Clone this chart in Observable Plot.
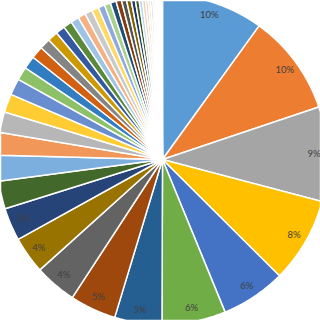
<!DOCTYPE html>
<html>
<head>
<meta charset="utf-8">
<script src="https://cdn.jsdelivr.net/npm/d3@7"></script>
<script src="https://cdn.jsdelivr.net/npm/@observablehq/plot@0.6"></script>
<style>
  html, body { margin: 0; padding: 0; background: #fff; overflow: hidden; }
  #chart svg { display: block; }
</style>
</head>
<body>
<div id="chart"></div>
<script>
// ---- data ----
const categories = ["S1","S2","S3","S4","S5","S6","S7","S8","S9","S10",
  "S11","S12","S13","S14","S15","S16","S17","S18","S19","S20",
  "S21","S22","S23","S24","S25","S26","S27","S28","S29","S30",
  "S31","S32","S33","S34","S35","S36","S37","S38","S39","S40",
  "S41","S42","S43","S44","S45","S46","S47","S48","S49","S50","S51"];
const values = [9.9, 9.8, 9.2, 8.3, 6.3, 6.2, 4.6, 4.5, 4.1, 3.6,
  3.2, 2.7, 2.5, 2.2, 2.0, 1.8, 1.6, 1.3, 1.25, 1.2,
  1.05, 1.0, 0.9, 0.85, 0.8, 0.75, 0.72, 0.68, 0.64, 0.6,
  0.56, 0.52, 0.48, 0.44, 0.4, 0.36, 0.33, 0.3, 0.27, 0.24,
  0.21, 0.18, 0.16, 0.14, 0.12, 0.1, 0.08, 0.06, 0.05, 0.04, 0.03];
const colors = ["#5B9BD5","#ED7D31","#A5A5A5","#FFC000","#4472C4","#70AD47",
  "#255E91","#9E480E","#636363","#997300","#264478","#43682B",
  "#7CAFDD","#F1975A","#B7B7B7","#FFCD33","#698ED0","#8CC168",
  "#327DC2","#D26012","#848484","#CC9A00","#335AA1","#5A8A39",
  "#9DC3E6","#F4B183","#C9C9C9","#FFD966","#8FAADC","#A9D18E",
  "#1F4E79","#843C0C","#525252","#7F6000","#203864","#385723",
  "#BDD7EE","#F8CBAD","#DBDBDB","#FFE699","#B4C7E7","#C5E0B4",
  "#DEEBF7","#FBE5D6","#EDEDED","#FFF2CC","#DAE3F3","#E2F0D9",
  "#D6E6F5","#FCEBE0","#F2F2F2"];
const labelledCount = 11; // slices that carry a percentage label

// ---- build slices ----
const total = d3.sum(values);
const pie = d3.pie().sort(null).value(d => d)(values);
const pt = (a, r) => [r * Math.sin(a), -r * Math.cos(a)];
const features = pie.map((p, i) => {
  const ring = [[0, 0]];
  const n = Math.max(2, Math.ceil((p.endAngle - p.startAngle) / 0.005));
  for (let k = 0; k <= n; k++) ring.push(pt(p.startAngle + (p.endAngle - p.startAngle) * k / n, 1));
  ring.push([0, 0]);
  return {type: "Feature", properties: {name: categories[i], color: colors[i]},
          geometry: {type: "Polygon", coordinates: [ring]}};
});
const labels = pie.slice(0, labelledCount).map((p, i) => {
  const [x, y] = pt((p.startAngle + p.endAngle) / 2, 0.92);
  return {x, y, label: Math.round(values[i] / total * 100) + "%"};
});

// visible window, in pie-radius units (pie is larger than the frame)
const view = {type: "MultiPoint", coordinates: [[-0.982, -0.964], [0.958, 0.976]]};

const chart = Plot.plot({
  width: 320,
  height: 320,
  margin: 0,
  style: {background: "#fff", overflow: "hidden"},
  projection: {type: "identity", domain: view, clip: "frame"},
  marks: [
    Plot.geo(features, {fill: d => d.properties.color, stroke: "#fff", strokeWidth: 1.5, clip: "frame"}),
    Plot.text(labels, {x: "x", y: "y", text: "label", fill: "#404040",
      fontSize: 9.5, fontFamily: "Lato, 'Open Sans', sans-serif"})
  ]
});
document.getElementById("chart").appendChild(chart);
</script>
</body>
</html>
